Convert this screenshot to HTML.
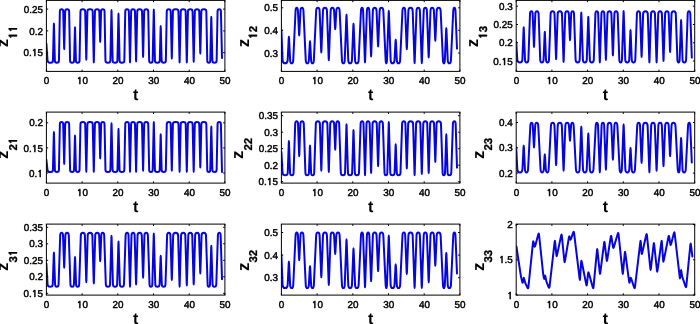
<!DOCTYPE html><html><head><meta charset="utf-8"><title>z plots</title><style>html,body{margin:0;padding:0;background:#fff;}svg{display:block;}text{font-family:"Liberation Sans", Helvetica, Arial, sans-serif;fill:#000;}.tk{font-size:9.9px;font-weight:normal;stroke:#000;stroke-width:0.45px;}.xl{font-size:16px;font-weight:bold;}.yl{font-size:16.8px;font-weight:bold;}.ys{font-size:11.4px;font-weight:bold;stroke:#000;stroke-width:0.3px;}.o{font-family:NanumGothic,"Liberation Sans",sans-serif;font-size:0.946em;}.tk .o{font-weight:bold;}.ys .o{font-weight:800;}</style></head><body>
<svg width="700" height="324" viewBox="0 0 700 324">
<rect width="700" height="324" fill="#fff"/>
<clipPath id="c11"><rect x="46.4" y="0.4" width="178.5" height="71"/></clipPath>
<path d="M46.4 43.8L47.55 60.51Q47.7 62.7 49.9 62.7L50.68 62.7Q52.88 62.7 52.94 60.5L53.84 24.5Q53.9 22.3 53.96 24.5L54.86 60.5Q54.92 62.7 56.91 62.7L56.91 62.7Q58.9 62.7 58.94 60.5L59.86 11.4Q59.9 9.2 61.53 9.2L61.53 9.2Q63.17 9.2 63.23 11.4L64.14 48.1Q64.2 50.3 64.26 48.1L65.17 11.4Q65.23 9.2 67.16 9.2L67.16 9.2Q69.1 9.2 69.14 11.4L70.06 60.5Q70.1 62.7 72.06 62.7L72.06 62.7Q74.02 62.7 74.08 60.5L74.94 28.4Q75 26.2 75.06 28.4L75.92 60.5Q75.98 62.7 77.74 62.7L77.74 62.7Q79.5 62.7 79.54 60.5L80.46 11.4Q80.5 9.2 82.7 9.2L82.94 9.2Q85.14 9.2 85.19 11.4L86.25 58.7Q86.3 60.9 86.35 58.7L87.41 11.4Q87.46 9.2 89.66 9.2L90.41 9.2Q92.61 9.2 92.66 11.4L93.75 61.5Q93.8 63.7 93.85 61.5L94.94 11.4Q94.99 9.2 97.12 9.2L97.12 9.2Q99.26 9.2 99.32 11.4L100.14 40.9Q100.2 43.1 100.26 40.9L101.08 11.4Q101.14 9.2 102.82 9.2L102.82 9.2Q104.5 9.2 104.54 11.4L105.46 60.5Q105.5 62.7 107.7 62.7L108.12 62.7Q110.32 62.7 110.37 60.5L111.45 11.2Q111.5 9 111.55 11.2L112.63 60.5Q112.68 62.7 114.88 62.7L115.16 62.7Q117.36 62.7 117.41 60.5L118.45 14.5Q118.5 12.3 118.55 14.5L119.59 60.5Q119.64 62.7 121.84 62.7L122.1 62.7Q124.3 62.7 124.34 60.5L125.26 11.4Q125.3 9.2 127.06 9.2L127.06 9.2Q128.81 9.2 128.86 11.4L129.95 61.5Q130 63.7 130.05 61.5L131.14 11.4Q131.19 9.2 133.06 9.2L133.06 9.2Q134.92 9.2 134.97 11.4L136.05 60.4Q136.1 62.6 136.15 60.4L137.23 11.4Q137.28 9.2 139.48 9.2L139.78 9.2Q141.98 9.2 142.03 11.4L143.05 55.9Q143.1 58.1 143.15 55.9L144.17 11.4Q144.22 9.2 146.21 9.2L146.21 9.2Q148.2 9.2 148.24 11.4L149.16 60.5Q149.2 62.7 150.91 62.7L150.91 62.7Q152.61 62.7 152.66 60.5L153.75 10.6Q153.8 8.4 153.85 10.6L154.94 60.5Q154.99 62.7 157.19 62.7L157.51 62.7Q159.71 62.7 159.77 60.5L160.64 27.2Q160.7 25 160.76 27.2L161.63 60.5Q161.69 62.7 163.75 62.7L163.75 62.7Q165.8 62.7 165.84 60.5L166.76 11.4Q166.8 9.2 168.73 9.2L168.73 9.2Q170.65 9.2 170.7 11.4L171.75 57.6Q171.8 59.8 171.85 57.6L172.9 11.4Q172.95 9.2 175.15 9.2L176.21 9.2Q178.41 9.2 178.46 11.4L179.55 61.5Q179.6 63.7 179.65 61.5L180.74 11.4Q180.79 9.2 182.99 9.2L183.41 9.2Q185.61 9.2 185.66 11.4L186.75 61.5Q186.8 63.7 186.85 61.5L187.94 11.4Q187.99 9.2 190.19 9.2L190.32 9.2Q192.52 9.2 192.57 11.4L193.65 60.8Q193.7 63 193.75 60.8L194.83 11.4Q194.88 9.2 197.05 9.2L197.05 9.2Q199.21 9.2 199.26 11.4L200.25 52.6Q200.3 54.8 200.35 52.6L201.34 11.4Q201.39 9.2 203.59 9.2L204.1 9.2Q206.3 9.2 206.34 11.4L207.26 60.5Q207.3 62.7 208.75 62.7L208.75 62.7Q210.2 62.7 210.25 60.5L211.25 17.9Q211.3 15.7 211.35 17.9L212.35 60.5Q212.4 62.7 214.5 62.7L214.5 62.7Q216.6 62.7 216.64 60.5L217.56 11.4Q217.6 9.2 219.24 9.2L219.24 9.2Q220.88 9.2 220.93 11.4L222 58" fill="none" stroke="#0606dc" stroke-width="2.0" stroke-linejoin="round" stroke-linecap="round" clip-path="url(#c11)"/>
<rect x="46.4" y="0.4" width="178.5" height="71" fill="none" stroke="#000" stroke-width="1"/>
<path d="M46.4 71.4V69.6M46.4 0.4V2.2" stroke="#000" stroke-width="1"/>
<text class="tk" transform="translate(46.6 84.4) skewX(0.05)" text-anchor="middle">0</text>
<path d="M82.1 71.4V69.6M82.1 0.4V2.2" stroke="#000" stroke-width="1"/>
<text class="tk" transform="translate(82.3 84.4) skewX(0.05)" text-anchor="middle"><tspan class="o">1</tspan>0</text>
<path d="M117.8 71.4V69.6M117.8 0.4V2.2" stroke="#000" stroke-width="1"/>
<text class="tk" transform="translate(118 84.4) skewX(0.05)" text-anchor="middle">20</text>
<path d="M153.5 71.4V69.6M153.5 0.4V2.2" stroke="#000" stroke-width="1"/>
<text class="tk" transform="translate(153.7 84.4) skewX(0.05)" text-anchor="middle">30</text>
<path d="M189.2 71.4V69.6M189.2 0.4V2.2" stroke="#000" stroke-width="1"/>
<text class="tk" transform="translate(189.4 84.4) skewX(0.05)" text-anchor="middle">40</text>
<path d="M224.9 71.4V69.6M224.9 0.4V2.2" stroke="#000" stroke-width="1"/>
<text class="tk" transform="translate(225.1 84.4) skewX(0.05)" text-anchor="middle">50</text>
<path d="M46.4 9.1H48.2M224.9 9.1H223.1" stroke="#000" stroke-width="1"/>
<text class="tk" transform="translate(43 12.7) skewX(0.05)" text-anchor="end">0.25</text>
<path d="M46.4 30.9H48.2M224.9 30.9H223.1" stroke="#000" stroke-width="1"/>
<text class="tk" transform="translate(43 34.5) skewX(0.05)" text-anchor="end">0.2</text>
<path d="M46.4 52.7H48.2M224.9 52.7H223.1" stroke="#000" stroke-width="1"/>
<text class="tk" transform="translate(43 56.3) skewX(0.05)" text-anchor="end">0.<tspan class="o">1</tspan>5</text>
<text class="xl" transform="translate(135.65 100.4) skewX(0.05)" text-anchor="middle">t</text>
<text transform="translate(8.4 47.3) rotate(-90) skewX(0.05)"><tspan class="yl">z</tspan><tspan class="ys" dy="8.5"><tspan class="o">1</tspan><tspan class="o">1</tspan></tspan></text>
<clipPath id="c12"><rect x="281.4" y="0.4" width="178.5" height="71"/></clipPath>
<path d="M281.4 30L282.58 60.1Q282.7 63.3 285.11 63.3L285.11 63.3Q287.51 63.3 287.67 60.1L288.74 38.2Q288.9 35 289.06 38.2L290.13 60.1Q290.29 63.3 291.7 63.3L291.7 63.3Q293.1 63.3 293.25 60.1L295.55 11Q295.7 7.8 296.75 7.8L296.75 7.8Q297.79 7.8 297.94 11L299.05 33.9Q299.2 37.1 299.35 33.9L300.46 11Q300.61 7.8 301.96 7.8L301.96 7.8Q303.3 7.8 303.45 11L305.75 60.1Q305.9 63.3 307.3 63.3L307.3 63.3Q308.71 63.3 308.88 60.1L309.83 42.7Q310 39.5 310.17 42.7L311.12 60.1Q311.29 63.3 312.5 63.3L312.5 63.3Q313.7 63.3 313.85 60.1L316.15 11Q316.3 7.8 317.9 7.8L317.9 7.8Q319.51 7.8 319.63 11L321.18 51Q321.3 54.2 321.42 51L322.97 11Q323.09 7.8 324.96 7.8L324.96 7.8Q326.84 7.8 326.96 11L328.68 58.7Q328.8 61.9 328.92 58.7L330.64 11Q330.76 7.8 332.34 7.8L332.34 7.8Q333.92 7.8 334.1 11L335.02 27.7Q335.2 30.9 335.38 27.7L336.3 11Q336.48 7.8 337.99 7.8L337.99 7.8Q339.5 7.8 339.65 11L341.95 60.1Q342.1 63.3 343.36 63.3L343.36 63.3Q344.62 63.3 344.74 60.1L346.38 16.1Q346.5 12.9 346.62 16.1L348.26 60.1Q348.38 63.3 350.1 63.3L350.1 63.3Q351.82 63.3 351.95 60.1L353.37 25Q353.5 21.8 353.63 25L355.05 60.1Q355.18 63.3 356.84 63.3L356.84 63.3Q358.5 63.3 358.65 60.1L360.95 11Q361.1 7.8 362.05 7.8L362.05 7.8Q362.99 7.8 363.1 11L364.89 61Q365 64.2 365.11 61L366.9 11Q367.01 7.8 368.12 7.8L368.12 7.8Q369.23 7.8 369.35 11L370.98 54.9Q371.1 58.1 371.22 54.9L372.85 11Q372.97 7.8 374.71 7.8L374.71 7.8Q376.45 7.8 376.58 11L377.97 44.9Q378.1 48.1 378.23 44.9L379.62 11Q379.75 7.8 381.48 7.8L381.48 7.8Q383.2 7.8 383.35 11L385.65 60.1Q385.8 63.3 386.32 63.3L386.32 63.3Q386.84 63.3 386.96 60.1L388.68 12.3Q388.8 9.1 388.92 12.3L390.64 60.1Q390.76 63.3 392.56 63.3L392.56 63.3Q394.37 63.3 394.54 60.1L395.53 41Q395.7 37.8 395.87 41L396.86 60.1Q397.03 63.3 398.51 63.3L398.51 63.3Q400 63.3 400.15 60.1L402.45 11Q402.6 7.8 403.85 7.8L403.85 7.8Q405.09 7.8 405.22 11L406.67 47.6Q406.8 50.8 406.93 47.6L408.38 11Q408.51 7.8 410.54 7.8L410.54 7.8Q412.58 7.8 412.69 11L414.49 61.6Q414.6 64.8 414.71 61.6L416.51 11Q416.62 7.8 418.2 7.8L418.2 7.8Q419.78 7.8 419.89 11L421.69 61.6Q421.8 64.8 421.91 61.6L423.71 11Q423.82 7.8 425.31 7.8L425.31 7.8Q426.8 7.8 426.92 11L428.58 56Q428.7 59.2 428.82 56L430.48 11Q430.6 7.8 432.19 7.8L432.19 7.8Q433.77 7.8 433.91 11L435.16 39.3Q435.3 42.5 435.44 39.3L436.69 11Q436.83 7.8 438.66 7.8L438.66 7.8Q440.5 7.8 440.65 11L442.95 60.1Q443.1 63.3 443.91 63.3L443.91 63.3Q444.72 63.3 444.86 60.1L446.16 29.5Q446.3 26.3 446.44 29.5L447.74 60.1Q447.88 63.3 449.34 63.3L449.34 63.3Q450.8 63.3 450.95 60.1L453.25 11Q453.4 7.8 454.37 7.8L454.37 7.8Q455.34 7.8 455.47 11L457 48.6" fill="none" stroke="#0606dc" stroke-width="2.0" stroke-linejoin="round" stroke-linecap="round" clip-path="url(#c12)"/>
<rect x="281.4" y="0.4" width="178.5" height="71" fill="none" stroke="#000" stroke-width="1"/>
<path d="M281.4 71.4V69.6M281.4 0.4V2.2" stroke="#000" stroke-width="1"/>
<text class="tk" transform="translate(281.6 84.4) skewX(0.05)" text-anchor="middle">0</text>
<path d="M317.1 71.4V69.6M317.1 0.4V2.2" stroke="#000" stroke-width="1"/>
<text class="tk" transform="translate(317.3 84.4) skewX(0.05)" text-anchor="middle"><tspan class="o">1</tspan>0</text>
<path d="M352.8 71.4V69.6M352.8 0.4V2.2" stroke="#000" stroke-width="1"/>
<text class="tk" transform="translate(353 84.4) skewX(0.05)" text-anchor="middle">20</text>
<path d="M388.5 71.4V69.6M388.5 0.4V2.2" stroke="#000" stroke-width="1"/>
<text class="tk" transform="translate(388.7 84.4) skewX(0.05)" text-anchor="middle">30</text>
<path d="M424.2 71.4V69.6M424.2 0.4V2.2" stroke="#000" stroke-width="1"/>
<text class="tk" transform="translate(424.4 84.4) skewX(0.05)" text-anchor="middle">40</text>
<path d="M459.9 71.4V69.6M459.9 0.4V2.2" stroke="#000" stroke-width="1"/>
<text class="tk" transform="translate(460.1 84.4) skewX(0.05)" text-anchor="middle">50</text>
<path d="M281.4 7.8H283.2M459.9 7.8H458.1" stroke="#000" stroke-width="1"/>
<text class="tk" transform="translate(278 11.4) skewX(0.05)" text-anchor="end">0.5</text>
<path d="M281.4 30.3H283.2M459.9 30.3H458.1" stroke="#000" stroke-width="1"/>
<text class="tk" transform="translate(278 33.9) skewX(0.05)" text-anchor="end">0.4</text>
<path d="M281.4 53H283.2M459.9 53H458.1" stroke="#000" stroke-width="1"/>
<text class="tk" transform="translate(278 56.6) skewX(0.05)" text-anchor="end">0.3</text>
<text class="xl" transform="translate(370.65 100.4) skewX(0.05)" text-anchor="middle">t</text>
<text transform="translate(248.7 47.3) rotate(-90) skewX(0.05)"><tspan class="yl">z</tspan><tspan class="ys" dy="8.5"><tspan class="o">1</tspan>2</tspan></text>
<clipPath id="c13"><rect x="516.2" y="0.4" width="178.5" height="71"/></clipPath>
<path d="M516.2 42L517.33 59.81Q517.5 62.5 519.89 62.5L519.89 62.5Q522.29 62.5 522.39 59.8L523.6 28.6Q523.7 25.9 523.8 28.6L525.01 59.8Q525.11 62.5 526.7 62.5L526.7 62.5Q528.3 62.5 528.39 59.8L530.01 13.9Q530.1 11.2 531.34 11.2L531.34 11.2Q532.58 11.2 532.68 13.9L533.9 45.7Q534 48.4 534.1 45.7L535.32 13.9Q535.42 11.2 536.96 11.2L536.96 11.2Q538.5 11.2 538.59 13.9L540.21 59.8Q540.3 62.5 541.89 62.5L541.89 62.5Q543.48 62.5 543.59 59.8L544.69 33.1Q544.8 30.4 544.91 33.1L546.01 59.8Q546.12 62.5 547.51 62.5L547.51 62.5Q548.9 62.5 548.99 59.8L550.61 13.9Q550.7 11.2 552.57 11.2L552.57 11.2Q554.44 11.2 554.53 13.9L556.01 57.9Q556.1 60.6 556.19 57.9L557.67 13.9Q557.76 11.2 559.82 11.2L559.82 11.2Q561.88 11.2 561.97 13.9L563.51 60.7Q563.6 63.4 563.69 60.7L565.23 13.9Q565.32 11.2 567.02 11.2L567.02 11.2Q568.72 11.2 568.83 13.9L569.89 39Q570 41.7 570.11 39L571.17 13.9Q571.28 11.2 572.59 11.2L572.59 11.2Q573.9 11.2 573.99 13.9L575.61 59.8Q575.7 62.5 577.65 62.5L577.65 62.5Q579.6 62.5 579.69 59.8L581.21 13.9Q581.3 11.2 581.39 13.9L582.91 59.8Q583 62.5 584.84 62.5L584.84 62.5Q586.68 62.5 586.77 59.8L588.21 18.1Q588.3 15.4 588.39 18.1L589.83 59.8Q589.92 62.5 591.81 62.5L591.81 62.5Q593.7 62.5 593.79 59.8L595.41 13.9Q595.5 11.2 596.79 11.2L596.79 11.2Q598.07 11.2 598.16 13.9L599.71 61.1Q599.8 63.8 599.89 61.1L601.44 13.9Q601.53 11.2 602.88 11.2L602.88 11.2Q604.22 11.2 604.31 13.9L605.81 58.6Q605.9 61.3 605.99 58.6L607.49 13.9Q607.58 11.2 609.44 11.2L609.44 11.2Q611.31 11.2 611.4 13.9L612.81 54.2Q612.9 56.9 612.99 54.2L614.4 13.9Q614.49 11.2 616.05 11.2L616.05 11.2Q617.6 11.2 617.69 13.9L619.31 59.8Q619.4 62.5 620.63 62.5L620.63 62.5Q621.87 62.5 621.96 59.8L623.51 12.4Q623.6 9.7 623.69 12.4L625.24 59.8Q625.33 62.5 627.24 62.5L627.24 62.5Q629.15 62.5 629.26 59.8L630.39 31.4Q630.5 28.7 630.61 31.4L631.74 59.8Q631.85 62.5 633.53 62.5L633.53 62.5Q635.2 62.5 635.29 59.8L636.91 13.9Q637 11.2 638.49 11.2L638.49 11.2Q639.98 11.2 640.07 13.9L641.51 55.6Q641.6 58.3 641.69 55.6L643.13 13.9Q643.22 11.2 645.44 11.2L645.44 11.2Q647.67 11.2 647.76 13.9L649.31 61.1Q649.4 63.8 649.49 61.1L651.04 13.9Q651.13 11.2 653 11.2L653 11.2Q654.87 11.2 654.96 13.9L656.51 61.1Q656.6 63.8 656.69 61.1L658.24 13.9Q658.33 11.2 660.07 11.2L660.07 11.2Q661.8 11.2 661.89 13.9L663.41 59.6Q663.5 62.3 663.59 59.6L665.11 13.9Q665.2 11.2 666.89 11.2L666.89 11.2Q668.58 11.2 668.68 13.9L670 50.8Q670.1 53.5 670.2 50.8L671.52 13.9Q671.62 11.2 673.66 11.2L673.66 11.2Q675.7 11.2 675.79 13.9L677.41 59.8Q677.5 62.5 678.52 62.5L678.52 62.5Q679.55 62.5 679.65 59.8L681 21.4Q681.1 18.7 681.2 21.4L682.55 59.8Q682.65 62.5 684.33 62.5L684.33 62.5Q686 62.5 686.09 59.8L687.71 13.9Q687.8 11.2 689 11.2L689 11.2Q690.2 11.2 690.29 13.9L691.8 57.6" fill="none" stroke="#0606dc" stroke-width="2.0" stroke-linejoin="round" stroke-linecap="round" clip-path="url(#c13)"/>
<rect x="516.2" y="0.4" width="178.5" height="71" fill="none" stroke="#000" stroke-width="1"/>
<path d="M516.2 71.4V69.6M516.2 0.4V2.2" stroke="#000" stroke-width="1"/>
<text class="tk" transform="translate(516.4 84.4) skewX(0.05)" text-anchor="middle">0</text>
<path d="M551.9 71.4V69.6M551.9 0.4V2.2" stroke="#000" stroke-width="1"/>
<text class="tk" transform="translate(552.1 84.4) skewX(0.05)" text-anchor="middle"><tspan class="o">1</tspan>0</text>
<path d="M587.6 71.4V69.6M587.6 0.4V2.2" stroke="#000" stroke-width="1"/>
<text class="tk" transform="translate(587.8 84.4) skewX(0.05)" text-anchor="middle">20</text>
<path d="M623.3 71.4V69.6M623.3 0.4V2.2" stroke="#000" stroke-width="1"/>
<text class="tk" transform="translate(623.5 84.4) skewX(0.05)" text-anchor="middle">30</text>
<path d="M659 71.4V69.6M659 0.4V2.2" stroke="#000" stroke-width="1"/>
<text class="tk" transform="translate(659.2 84.4) skewX(0.05)" text-anchor="middle">40</text>
<path d="M694.7 71.4V69.6M694.7 0.4V2.2" stroke="#000" stroke-width="1"/>
<text class="tk" transform="translate(694.9 84.4) skewX(0.05)" text-anchor="middle">50</text>
<path d="M516.2 6.2H518M694.7 6.2H692.9" stroke="#000" stroke-width="1"/>
<text class="tk" transform="translate(512.8 9.8) skewX(0.05)" text-anchor="end">0.3</text>
<path d="M516.2 24.5H518M694.7 24.5H692.9" stroke="#000" stroke-width="1"/>
<text class="tk" transform="translate(512.8 28.1) skewX(0.05)" text-anchor="end">0.25</text>
<path d="M516.2 42.8H518M694.7 42.8H692.9" stroke="#000" stroke-width="1"/>
<text class="tk" transform="translate(512.8 46.4) skewX(0.05)" text-anchor="end">0.2</text>
<path d="M516.2 61H518M694.7 61H692.9" stroke="#000" stroke-width="1"/>
<text class="tk" transform="translate(512.8 64.6) skewX(0.05)" text-anchor="end">0.<tspan class="o">1</tspan>5</text>
<text class="xl" transform="translate(605.45 100.4) skewX(0.05)" text-anchor="middle">t</text>
<text transform="translate(478.2 47.3) rotate(-90) skewX(0.05)"><tspan class="yl">z</tspan><tspan class="ys" dy="8.5"><tspan class="o">1</tspan>3</tspan></text>
<clipPath id="c21"><rect x="46.4" y="112.1" width="178.5" height="71"/></clipPath>
<path d="M46.4 159.8L47.47 169.81Q47.7 172 49.9 172L50.67 172Q52.87 172 52.93 169.8L53.84 133.2Q53.9 131 53.96 133.2L54.87 169.8Q54.93 172 56.91 172L56.91 172Q58.9 172 58.94 169.8L59.86 124.2Q59.9 122 61.52 122L61.52 122Q63.14 122 63.19 124.2L64.15 163Q64.2 165.2 64.25 163L65.21 124.2Q65.26 122 67.18 122L67.18 122Q69.1 122 69.14 124.2L70.06 169.8Q70.1 172 72.06 172L72.06 172Q74.01 172 74.07 169.8L74.94 136.5Q75 134.3 75.06 136.5L75.93 169.8Q75.99 172 77.75 172L77.75 172Q79.5 172 79.54 169.8L80.46 124.2Q80.5 122 82.7 122L82.95 122Q85.15 122 85.2 124.2L86.25 170.8Q86.3 173 86.35 170.8L87.4 124.2Q87.45 122 89.65 122L90.45 122Q92.65 122 92.7 124.2L93.75 170.8Q93.8 173 93.85 170.8L94.9 124.2Q94.95 122 97.08 122L97.08 122Q99.21 122 99.27 124.2L100.14 157.5Q100.2 159.7 100.26 157.5L101.13 124.2Q101.19 122 102.84 122L102.84 122Q104.5 122 104.54 124.2L105.46 169.8Q105.5 172 107.7 172L108.16 172Q110.36 172 110.41 169.8L111.45 124.3Q111.5 122.1 111.55 124.3L112.59 169.8Q112.64 172 114.84 172L115.23 172Q117.43 172 117.48 169.8L118.45 129.9Q118.5 127.7 118.55 129.9L119.52 169.8Q119.57 172 121.77 172L122.1 172Q124.3 172 124.34 169.8L125.26 124.2Q125.3 122 127.07 122L127.07 122Q128.85 122 128.9 124.2L129.95 170.8Q130 173 130.05 170.8L131.1 124.2Q131.15 122 133.05 122L133.05 122Q134.95 122 135 124.2L136.05 170.8Q136.1 173 136.15 170.8L137.2 124.2Q137.25 122 139.45 122L139.76 122Q141.96 122 142.01 124.2L143.05 169.7Q143.1 171.9 143.15 169.7L144.19 124.2Q144.24 122 146.22 122L146.22 122Q148.2 122 148.24 124.2L149.16 169.8Q149.2 172 150.93 172L150.93 172Q152.65 172 152.7 169.8L153.75 123.2Q153.8 121 153.85 123.2L154.9 169.8Q154.95 172 157.15 172L157.5 172Q159.7 172 159.76 169.8L160.64 135.4Q160.7 133.2 160.76 135.4L161.64 169.8Q161.7 172 163.75 172L163.75 172Q165.8 172 165.84 169.8L166.76 124.2Q166.8 122 168.73 122L168.73 122Q170.66 122 170.71 124.2L171.75 169.7Q171.8 171.9 171.85 169.7L172.89 124.2Q172.94 122 175.14 122L176.25 122Q178.45 122 178.5 124.2L179.55 170.8Q179.6 173 179.65 170.8L180.7 124.2Q180.75 122 182.95 122L183.45 122Q185.65 122 185.7 124.2L186.75 170.8Q186.8 173 186.85 170.8L187.9 124.2Q187.95 122 190.15 122L190.35 122Q192.55 122 192.6 124.2L193.65 170.8Q193.7 173 193.75 170.8L194.8 124.2Q194.85 122 197.02 122L197.02 122Q199.2 122 199.25 124.2L200.25 166.4Q200.3 168.6 200.35 166.4L201.35 124.2Q201.4 122 203.6 122L204.1 122Q206.3 122 206.34 124.2L207.26 169.8Q207.3 172 208.75 172L208.75 172Q210.2 172 210.25 169.8L211.25 127.6Q211.3 125.4 211.35 127.6L212.35 169.8Q212.4 172 214.5 172L214.5 172Q216.6 172 216.64 169.8L217.56 124.2Q217.6 122 219.23 122L219.23 122Q220.86 122 220.91 124.2L222 171.9" fill="none" stroke="#0606dc" stroke-width="2.0" stroke-linejoin="round" stroke-linecap="round" clip-path="url(#c21)"/>
<rect x="46.4" y="112.1" width="178.5" height="71" fill="none" stroke="#000" stroke-width="1"/>
<path d="M46.4 183.1V181.3M46.4 112.1V113.9" stroke="#000" stroke-width="1"/>
<text class="tk" transform="translate(46.6 196.1) skewX(0.05)" text-anchor="middle">0</text>
<path d="M82.1 183.1V181.3M82.1 112.1V113.9" stroke="#000" stroke-width="1"/>
<text class="tk" transform="translate(82.3 196.1) skewX(0.05)" text-anchor="middle"><tspan class="o">1</tspan>0</text>
<path d="M117.8 183.1V181.3M117.8 112.1V113.9" stroke="#000" stroke-width="1"/>
<text class="tk" transform="translate(118 196.1) skewX(0.05)" text-anchor="middle">20</text>
<path d="M153.5 183.1V181.3M153.5 112.1V113.9" stroke="#000" stroke-width="1"/>
<text class="tk" transform="translate(153.7 196.1) skewX(0.05)" text-anchor="middle">30</text>
<path d="M189.2 183.1V181.3M189.2 112.1V113.9" stroke="#000" stroke-width="1"/>
<text class="tk" transform="translate(189.4 196.1) skewX(0.05)" text-anchor="middle">40</text>
<path d="M224.9 183.1V181.3M224.9 112.1V113.9" stroke="#000" stroke-width="1"/>
<text class="tk" transform="translate(225.1 196.1) skewX(0.05)" text-anchor="middle">50</text>
<path d="M46.4 122.8H48.2M224.9 122.8H223.1" stroke="#000" stroke-width="1"/>
<text class="tk" transform="translate(43 126.4) skewX(0.05)" text-anchor="end">0.2</text>
<path d="M46.4 147.9H48.2M224.9 147.9H223.1" stroke="#000" stroke-width="1"/>
<text class="tk" transform="translate(43 151.5) skewX(0.05)" text-anchor="end">0.<tspan class="o">1</tspan>5</text>
<path d="M46.4 173H48.2M224.9 173H223.1" stroke="#000" stroke-width="1"/>
<text class="tk" transform="translate(43 176.6) skewX(0.05)" text-anchor="end">0.<tspan class="o">1</tspan></text>
<text class="xl" transform="translate(135.65 212.1) skewX(0.05)" text-anchor="middle">t</text>
<text transform="translate(8.4 159) rotate(-90) skewX(0.05)"><tspan class="yl">z</tspan><tspan class="ys" dy="8.5">2<tspan class="o">1</tspan></tspan></text>
<clipPath id="c22"><rect x="281.4" y="112.1" width="178.5" height="71"/></clipPath>
<path d="M281.4 152L282.56 172.7Q282.7 175.3 285.17 175.3L285.17 175.3Q287.65 175.3 287.74 172.7L288.81 142.3Q288.9 139.7 288.99 142.3L290.06 172.7Q290.15 175.3 291.82 175.3L291.82 175.3Q293.5 175.3 293.59 172.7L295.21 123.9Q295.3 121.3 296.62 121.3L296.62 121.3Q297.94 121.3 298.03 123.9L299.11 155Q299.2 157.6 299.29 155L300.37 123.9Q300.46 121.3 302.08 121.3L302.08 121.3Q303.7 121.3 303.79 123.9L305.41 172.7Q305.5 175.3 307.16 175.3L307.16 175.3Q308.82 175.3 308.92 172.7L309.9 146.7Q310 144.1 310.1 146.7L311.08 172.7Q311.18 175.3 312.64 175.3L312.64 175.3Q314.1 175.3 314.19 172.7L315.81 123.9Q315.9 121.3 317.86 121.3L317.86 121.3Q319.81 121.3 319.89 123.9L321.22 169.5Q321.3 172.1 321.38 169.5L322.71 123.9Q322.79 121.3 325.04 121.3L325.04 121.3Q327.29 121.3 327.37 123.9L328.72 170.6Q328.8 173.2 328.88 170.6L330.23 123.9Q330.31 121.3 332.18 121.3L332.18 121.3Q334.04 121.3 334.14 123.9L335.1 148.4Q335.2 151 335.3 148.4L336.26 123.9Q336.36 121.3 337.73 121.3L337.73 121.3Q339.1 121.3 339.19 123.9L340.81 172.7Q340.9 175.3 342.94 175.3L342.94 175.3Q344.98 175.3 345.06 172.7L346.42 125.6Q346.5 123 346.58 125.6L347.94 172.7Q348.02 175.3 350.04 175.3L350.04 175.3Q352.07 175.3 352.15 172.7L353.42 131.2Q353.5 128.6 353.58 131.2L354.85 172.7Q354.93 175.3 356.91 175.3L356.91 175.3Q358.9 175.3 358.99 172.7L360.61 123.9Q360.7 121.3 362.07 121.3L362.07 121.3Q363.44 121.3 363.51 123.9L364.93 173.9Q365 176.5 365.07 173.9L366.49 123.9Q366.56 121.3 368.06 121.3L368.06 121.3Q369.57 121.3 369.65 123.9L371.02 171.7Q371.1 174.3 371.18 171.7L372.55 123.9Q372.63 121.3 374.65 121.3L374.65 121.3Q376.68 121.3 376.76 123.9L378.02 165Q378.1 167.6 378.18 165L379.44 123.9Q379.52 121.3 381.16 121.3L381.16 121.3Q382.8 121.3 382.89 123.9L384.51 172.7Q384.6 175.3 385.93 175.3L385.93 175.3Q387.25 175.3 387.32 172.7L388.73 123.4Q388.8 120.8 388.87 123.4L390.28 172.7Q390.35 175.3 392.43 175.3L392.43 175.3Q394.5 175.3 394.6 172.7L395.6 145.6Q395.7 143 395.8 145.6L396.8 172.7Q396.9 175.3 398.65 175.3L398.65 175.3Q400.4 175.3 400.49 172.7L402.11 123.9Q402.2 121.3 403.77 121.3L403.77 121.3Q405.34 121.3 405.42 123.9L406.72 167.3Q406.8 169.9 406.88 167.3L408.18 123.9Q408.26 121.3 410.65 121.3L410.65 121.3Q413.04 121.3 413.11 123.9L414.53 173.9Q414.6 176.5 414.67 173.9L416.09 123.9Q416.16 121.3 418.21 121.3L418.21 121.3Q420.25 121.3 420.32 123.9L421.73 172.8Q421.8 175.4 421.87 172.8L423.28 123.9Q423.35 121.3 425.26 121.3L425.26 121.3Q427.17 121.3 427.25 123.9L428.62 171.7Q428.7 174.3 428.78 171.7L430.15 123.9Q430.23 121.3 432.09 121.3L432.09 121.3Q433.95 121.3 434.03 123.9L435.22 160.6Q435.3 163.2 435.38 160.6L436.57 123.9Q436.65 121.3 438.77 121.3L438.77 121.3Q440.9 121.3 440.99 123.9L442.61 172.7Q442.7 175.3 443.82 175.3L443.82 175.3Q444.94 175.3 445.02 172.7L446.22 135.6Q446.3 133 446.38 135.6L447.58 172.7Q447.66 175.3 449.43 175.3L449.43 175.3Q451.2 175.3 451.29 172.7L452.91 123.9Q453 121.3 454.29 121.3L454.29 121.3Q455.58 121.3 455.66 123.9L457 167.6" fill="none" stroke="#0606dc" stroke-width="2.0" stroke-linejoin="round" stroke-linecap="round" clip-path="url(#c22)"/>
<rect x="281.4" y="112.1" width="178.5" height="71" fill="none" stroke="#000" stroke-width="1"/>
<path d="M281.4 183.1V181.3M281.4 112.1V113.9" stroke="#000" stroke-width="1"/>
<text class="tk" transform="translate(281.6 196.1) skewX(0.05)" text-anchor="middle">0</text>
<path d="M317.1 183.1V181.3M317.1 112.1V113.9" stroke="#000" stroke-width="1"/>
<text class="tk" transform="translate(317.3 196.1) skewX(0.05)" text-anchor="middle"><tspan class="o">1</tspan>0</text>
<path d="M352.8 183.1V181.3M352.8 112.1V113.9" stroke="#000" stroke-width="1"/>
<text class="tk" transform="translate(353 196.1) skewX(0.05)" text-anchor="middle">20</text>
<path d="M388.5 183.1V181.3M388.5 112.1V113.9" stroke="#000" stroke-width="1"/>
<text class="tk" transform="translate(388.7 196.1) skewX(0.05)" text-anchor="middle">30</text>
<path d="M424.2 183.1V181.3M424.2 112.1V113.9" stroke="#000" stroke-width="1"/>
<text class="tk" transform="translate(424.4 196.1) skewX(0.05)" text-anchor="middle">40</text>
<path d="M459.9 183.1V181.3M459.9 112.1V113.9" stroke="#000" stroke-width="1"/>
<text class="tk" transform="translate(460.1 196.1) skewX(0.05)" text-anchor="middle">50</text>
<path d="M281.4 115.7H283.2M459.9 115.7H458.1" stroke="#000" stroke-width="1"/>
<text class="tk" transform="translate(278 119.3) skewX(0.05)" text-anchor="end">0.35</text>
<path d="M281.4 132.2H283.2M459.9 132.2H458.1" stroke="#000" stroke-width="1"/>
<text class="tk" transform="translate(278 135.8) skewX(0.05)" text-anchor="end">0.3</text>
<path d="M281.4 148.7H283.2M459.9 148.7H458.1" stroke="#000" stroke-width="1"/>
<text class="tk" transform="translate(278 152.3) skewX(0.05)" text-anchor="end">0.25</text>
<path d="M281.4 165.2H283.2M459.9 165.2H458.1" stroke="#000" stroke-width="1"/>
<text class="tk" transform="translate(278 168.8) skewX(0.05)" text-anchor="end">0.2</text>
<path d="M281.4 181.7H283.2M459.9 181.7H458.1" stroke="#000" stroke-width="1"/>
<text class="tk" transform="translate(278 185.3) skewX(0.05)" text-anchor="end">0.<tspan class="o">1</tspan>5</text>
<text class="xl" transform="translate(370.65 212.1) skewX(0.05)" text-anchor="middle">t</text>
<text transform="translate(243.4 159) rotate(-90) skewX(0.05)"><tspan class="yl">z</tspan><tspan class="ys" dy="8.5">22</tspan></text>
<clipPath id="c23"><rect x="516.2" y="112.1" width="178.5" height="71"/></clipPath>
<path d="M516.2 147.6L517.33 169.3Q517.5 172.5 519.9 172.5L519.9 172.5Q522.3 172.5 522.46 169.3L523.54 147Q523.7 143.8 523.86 147L524.94 169.3Q525.1 172.5 526.5 172.5L526.5 172.5Q527.9 172.5 528.07 169.3L530.33 125.9Q530.5 122.7 531.58 122.7L531.58 122.7Q532.65 122.7 532.81 125.9L533.84 145.9Q534 149.1 534.16 145.9L535.19 125.9Q535.35 122.7 536.73 122.7L536.73 122.7Q538.1 122.7 538.27 125.9L540.53 169.3Q540.7 172.5 542.15 172.5L542.15 172.5Q543.6 172.5 543.79 169.31L544.61 155.89Q544.8 152.7 544.99 155.89L545.81 169.31Q546 172.5 547.25 172.5L547.25 172.5Q548.5 172.5 548.67 169.3L550.93 125.9Q551.1 122.7 552.73 122.7L552.73 122.7Q554.36 122.7 554.49 125.9L555.97 163.6Q556.1 166.8 556.23 163.6L557.71 125.9Q557.84 122.7 559.79 122.7L559.79 122.7Q561.74 122.7 561.86 125.9L563.48 169.2Q563.6 172.4 563.72 169.2L565.34 125.9Q565.46 122.7 567.13 122.7L567.13 122.7Q568.8 122.7 568.99 125.89L569.81 139.21Q570 142.4 570.19 139.21L571.01 125.89Q571.2 122.7 572.35 122.7L572.35 122.7Q573.5 122.7 573.67 125.9L575.93 169.3Q576.1 172.5 577.8 172.5L577.8 172.5Q579.49 172.5 579.61 169.3L581.18 128.1Q581.3 124.9 581.42 128.1L582.99 169.3Q583.11 172.5 584.87 172.5L584.87 172.5Q586.63 172.5 586.76 169.3L588.17 134.8Q588.3 131.6 588.43 134.8L589.84 169.3Q589.97 172.5 591.63 172.5L591.63 172.5Q593.3 172.5 593.47 169.3L595.73 125.9Q595.9 122.7 596.9 122.7L596.9 122.7Q597.9 122.7 598.02 125.9L599.68 170.8Q599.8 174 599.92 170.8L601.58 125.9Q601.7 122.7 602.88 122.7L602.88 122.7Q604.06 122.7 604.18 125.9L605.78 168.1Q605.9 171.3 606.02 168.1L607.62 125.9Q607.74 122.7 609.51 122.7L609.51 122.7Q611.28 122.7 611.41 125.9L612.77 158.1Q612.9 161.3 613.03 158.1L614.39 125.9Q614.52 122.7 615.86 122.7L615.86 122.7Q617.2 122.7 617.37 125.9L619.63 169.3Q619.8 172.5 620.77 172.5L620.77 172.5Q621.74 172.5 621.86 169.3L623.48 125.9Q623.6 122.7 623.72 125.9L625.34 169.3Q625.46 172.5 627.31 172.5L627.31 172.5Q629.15 172.5 629.31 169.3L630.34 149.3Q630.5 146.1 630.66 149.3L631.69 169.3Q631.85 172.5 633.33 172.5L633.33 172.5Q634.8 172.5 634.97 169.3L637.23 125.9Q637.4 122.7 638.65 122.7L638.65 122.7Q639.91 122.7 640.04 125.9L641.47 161.4Q641.6 164.6 641.73 161.4L643.16 125.9Q643.29 122.7 645.39 122.7L645.39 122.7Q647.5 122.7 647.62 125.9L649.28 170.8Q649.4 174 649.52 170.8L651.18 125.9Q651.3 122.7 653.02 122.7L653.02 122.7Q654.74 122.7 654.86 125.9L656.48 169.2Q656.6 172.4 656.72 169.2L658.34 125.9Q658.46 122.7 660.1 122.7L660.1 122.7Q661.74 122.7 661.86 125.9L663.38 164.7Q663.5 167.9 663.62 164.7L665.14 125.9Q665.26 122.7 666.91 122.7L666.91 122.7Q668.56 122.7 668.7 125.9L669.96 154.7Q670.1 157.9 670.24 154.7L671.5 125.9Q671.64 122.7 673.47 122.7L673.47 122.7Q675.3 122.7 675.47 125.9L677.73 169.3Q677.9 172.5 678.71 172.5L678.71 172.5Q679.53 172.5 679.67 169.3L680.96 139.3Q681.1 136.1 681.24 139.3L682.53 169.3Q682.67 172.5 684.13 172.5L684.13 172.5Q685.6 172.5 685.77 169.3L688.03 125.9Q688.2 122.7 689.18 122.7L689.18 122.7Q690.16 122.7 690.29 125.9L691.8 162.4" fill="none" stroke="#0606dc" stroke-width="2.0" stroke-linejoin="round" stroke-linecap="round" clip-path="url(#c23)"/>
<rect x="516.2" y="112.1" width="178.5" height="71" fill="none" stroke="#000" stroke-width="1"/>
<path d="M516.2 183.1V181.3M516.2 112.1V113.9" stroke="#000" stroke-width="1"/>
<text class="tk" transform="translate(516.4 196.1) skewX(0.05)" text-anchor="middle">0</text>
<path d="M551.9 183.1V181.3M551.9 112.1V113.9" stroke="#000" stroke-width="1"/>
<text class="tk" transform="translate(552.1 196.1) skewX(0.05)" text-anchor="middle"><tspan class="o">1</tspan>0</text>
<path d="M587.6 183.1V181.3M587.6 112.1V113.9" stroke="#000" stroke-width="1"/>
<text class="tk" transform="translate(587.8 196.1) skewX(0.05)" text-anchor="middle">20</text>
<path d="M623.3 183.1V181.3M623.3 112.1V113.9" stroke="#000" stroke-width="1"/>
<text class="tk" transform="translate(623.5 196.1) skewX(0.05)" text-anchor="middle">30</text>
<path d="M659 183.1V181.3M659 112.1V113.9" stroke="#000" stroke-width="1"/>
<text class="tk" transform="translate(659.2 196.1) skewX(0.05)" text-anchor="middle">40</text>
<path d="M694.7 183.1V181.3M694.7 112.1V113.9" stroke="#000" stroke-width="1"/>
<text class="tk" transform="translate(694.9 196.1) skewX(0.05)" text-anchor="middle">50</text>
<path d="M516.2 122.5H518M694.7 122.5H692.9" stroke="#000" stroke-width="1"/>
<text class="tk" transform="translate(512.8 126.1) skewX(0.05)" text-anchor="end">0.4</text>
<path d="M516.2 147.8H518M694.7 147.8H692.9" stroke="#000" stroke-width="1"/>
<text class="tk" transform="translate(512.8 151.4) skewX(0.05)" text-anchor="end">0.3</text>
<path d="M516.2 173.1H518M694.7 173.1H692.9" stroke="#000" stroke-width="1"/>
<text class="tk" transform="translate(512.8 176.7) skewX(0.05)" text-anchor="end">0.2</text>
<text class="xl" transform="translate(605.45 212.1) skewX(0.05)" text-anchor="middle">t</text>
<text transform="translate(483.5 159) rotate(-90) skewX(0.05)"><tspan class="yl">z</tspan><tspan class="ys" dy="8.5">23</tspan></text>
<clipPath id="c31"><rect x="46.4" y="224.1" width="178.5" height="71"/></clipPath>
<path d="M46.4 263.5L47.56 284.2Q47.7 286.8 50.18 286.8L50.18 286.8Q52.65 286.8 52.74 284.2L53.81 253.8Q53.9 251.2 53.99 253.8L55.06 284.2Q55.15 286.8 56.83 286.8L56.83 286.8Q58.5 286.8 58.59 284.2L60.21 235.4Q60.3 232.8 61.62 232.8L61.62 232.8Q62.94 232.8 63.03 235.4L64.11 266.5Q64.2 269.1 64.29 266.5L65.37 235.4Q65.46 232.8 67.08 232.8L67.08 232.8Q68.7 232.8 68.79 235.4L70.41 284.2Q70.5 286.8 72.16 286.8L72.16 286.8Q73.82 286.8 73.92 284.2L74.9 258.2Q75 255.6 75.1 258.2L76.08 284.2Q76.18 286.8 77.64 286.8L77.64 286.8Q79.1 286.8 79.19 284.2L80.81 235.4Q80.9 232.8 82.86 232.8L82.86 232.8Q84.81 232.8 84.89 235.4L86.22 281Q86.3 283.6 86.38 281L87.71 235.4Q87.79 232.8 90.04 232.8L90.04 232.8Q92.29 232.8 92.37 235.4L93.72 282.1Q93.8 284.7 93.88 282.1L95.23 235.4Q95.31 232.8 97.18 232.8L97.18 232.8Q99.04 232.8 99.14 235.4L100.1 259.9Q100.2 262.5 100.3 259.9L101.26 235.4Q101.36 232.8 102.73 232.8L102.73 232.8Q104.1 232.8 104.19 235.4L105.81 284.2Q105.9 286.8 107.94 286.8L107.94 286.8Q109.98 286.8 110.06 284.2L111.42 237.1Q111.5 234.5 111.58 237.1L112.94 284.2Q113.02 286.8 115.05 286.8L115.05 286.8Q117.07 286.8 117.15 284.2L118.42 242.7Q118.5 240.1 118.58 242.7L119.85 284.2Q119.93 286.8 121.92 286.8L121.92 286.8Q123.9 286.8 123.99 284.2L125.61 235.4Q125.7 232.8 127.07 232.8L127.07 232.8Q128.44 232.8 128.51 235.4L129.93 285.4Q130 288 130.07 285.4L131.49 235.4Q131.56 232.8 133.07 232.8L133.07 232.8Q134.57 232.8 134.65 235.4L136.02 283.2Q136.1 285.8 136.18 283.2L137.55 235.4Q137.63 232.8 139.66 232.8L139.66 232.8Q141.68 232.8 141.76 235.4L143.02 276.5Q143.1 279.1 143.18 276.5L144.44 235.4Q144.52 232.8 146.16 232.8L146.16 232.8Q147.8 232.8 147.89 235.4L149.51 284.2Q149.6 286.8 150.93 286.8L150.93 286.8Q152.25 286.8 152.32 284.2L153.73 234.9Q153.8 232.3 153.87 234.9L155.28 284.2Q155.35 286.8 157.43 286.8L157.43 286.8Q159.5 286.8 159.6 284.2L160.6 257.1Q160.7 254.5 160.8 257.1L161.8 284.2Q161.9 286.8 163.65 286.8L163.65 286.8Q165.4 286.8 165.49 284.2L167.11 235.4Q167.2 232.8 168.77 232.8L168.77 232.8Q170.34 232.8 170.42 235.4L171.72 278.8Q171.8 281.4 171.88 278.8L173.18 235.4Q173.26 232.8 175.65 232.8L175.65 232.8Q178.04 232.8 178.11 235.4L179.53 285.4Q179.6 288 179.67 285.4L181.09 235.4Q181.16 232.8 183.21 232.8L183.21 232.8Q185.25 232.8 185.32 235.4L186.73 284.3Q186.8 286.9 186.87 284.3L188.28 235.4Q188.35 232.8 190.26 232.8L190.26 232.8Q192.17 232.8 192.25 235.4L193.62 283.2Q193.7 285.8 193.78 283.2L195.15 235.4Q195.23 232.8 197.09 232.8L197.09 232.8Q198.95 232.8 199.03 235.4L200.22 272.1Q200.3 274.7 200.38 272.1L201.57 235.4Q201.65 232.8 203.78 232.8L203.78 232.8Q205.9 232.8 205.99 235.4L207.61 284.2Q207.7 286.8 208.82 286.8L208.82 286.8Q209.94 286.8 210.02 284.2L211.22 247.1Q211.3 244.5 211.38 247.1L212.58 284.2Q212.66 286.8 214.43 286.8L214.43 286.8Q216.2 286.8 216.29 284.2L217.91 235.4Q218 232.8 219.29 232.8L219.29 232.8Q220.58 232.8 220.66 235.4L222 279.1" fill="none" stroke="#0606dc" stroke-width="2.0" stroke-linejoin="round" stroke-linecap="round" clip-path="url(#c31)"/>
<rect x="46.4" y="224.1" width="178.5" height="71" fill="none" stroke="#000" stroke-width="1"/>
<path d="M46.4 295.1V293.3M46.4 224.1V225.9" stroke="#000" stroke-width="1"/>
<text class="tk" transform="translate(46.6 308.1) skewX(0.05)" text-anchor="middle">0</text>
<path d="M82.1 295.1V293.3M82.1 224.1V225.9" stroke="#000" stroke-width="1"/>
<text class="tk" transform="translate(82.3 308.1) skewX(0.05)" text-anchor="middle"><tspan class="o">1</tspan>0</text>
<path d="M117.8 295.1V293.3M117.8 224.1V225.9" stroke="#000" stroke-width="1"/>
<text class="tk" transform="translate(118 308.1) skewX(0.05)" text-anchor="middle">20</text>
<path d="M153.5 295.1V293.3M153.5 224.1V225.9" stroke="#000" stroke-width="1"/>
<text class="tk" transform="translate(153.7 308.1) skewX(0.05)" text-anchor="middle">30</text>
<path d="M189.2 295.1V293.3M189.2 224.1V225.9" stroke="#000" stroke-width="1"/>
<text class="tk" transform="translate(189.4 308.1) skewX(0.05)" text-anchor="middle">40</text>
<path d="M224.9 295.1V293.3M224.9 224.1V225.9" stroke="#000" stroke-width="1"/>
<text class="tk" transform="translate(225.1 308.1) skewX(0.05)" text-anchor="middle">50</text>
<path d="M46.4 227.3H48.2M224.9 227.3H223.1" stroke="#000" stroke-width="1"/>
<text class="tk" transform="translate(43 230.9) skewX(0.05)" text-anchor="end">0.35</text>
<path d="M46.4 243.8H48.2M224.9 243.8H223.1" stroke="#000" stroke-width="1"/>
<text class="tk" transform="translate(43 247.4) skewX(0.05)" text-anchor="end">0.3</text>
<path d="M46.4 260.3H48.2M224.9 260.3H223.1" stroke="#000" stroke-width="1"/>
<text class="tk" transform="translate(43 263.9) skewX(0.05)" text-anchor="end">0.25</text>
<path d="M46.4 276.8H48.2M224.9 276.8H223.1" stroke="#000" stroke-width="1"/>
<text class="tk" transform="translate(43 280.4) skewX(0.05)" text-anchor="end">0.2</text>
<path d="M46.4 293.3H48.2M224.9 293.3H223.1" stroke="#000" stroke-width="1"/>
<text class="tk" transform="translate(43 296.9) skewX(0.05)" text-anchor="end">0.<tspan class="o">1</tspan>5</text>
<text class="xl" transform="translate(135.65 324.1) skewX(0.05)" text-anchor="middle">t</text>
<text transform="translate(8.4 271) rotate(-90) skewX(0.05)"><tspan class="yl">z</tspan><tspan class="ys" dy="8.5">3<tspan class="o">1</tspan></tspan></text>
<clipPath id="c32"><rect x="281.4" y="224.1" width="178.5" height="71"/></clipPath>
<path d="M281.4 254.8L282.58 284.9Q282.7 288.1 285.11 288.1L285.11 288.1Q287.51 288.1 287.67 284.9L288.74 263Q288.9 259.8 289.06 263L290.13 284.9Q290.29 288.1 291.7 288.1L291.7 288.1Q293.1 288.1 293.25 284.9L295.55 235.8Q295.7 232.6 296.75 232.6L296.75 232.6Q297.79 232.6 297.94 235.8L299.05 258.7Q299.2 261.9 299.35 258.7L300.46 235.8Q300.61 232.6 301.96 232.6L301.96 232.6Q303.3 232.6 303.45 235.8L305.75 284.9Q305.9 288.1 307.3 288.1L307.3 288.1Q308.71 288.1 308.88 284.9L309.83 267.5Q310 264.3 310.17 267.5L311.12 284.9Q311.29 288.1 312.5 288.1L312.5 288.1Q313.7 288.1 313.85 284.9L316.15 235.8Q316.3 232.6 317.9 232.6L317.9 232.6Q319.51 232.6 319.63 235.8L321.18 275.8Q321.3 279 321.42 275.8L322.97 235.8Q323.09 232.6 324.96 232.6L324.96 232.6Q326.84 232.6 326.96 235.8L328.68 283.5Q328.8 286.7 328.92 283.5L330.64 235.8Q330.76 232.6 332.34 232.6L332.34 232.6Q333.92 232.6 334.1 235.8L335.02 252.5Q335.2 255.7 335.38 252.5L336.3 235.8Q336.48 232.6 337.99 232.6L337.99 232.6Q339.5 232.6 339.65 235.8L341.95 284.9Q342.1 288.1 343.36 288.1L343.36 288.1Q344.62 288.1 344.74 284.9L346.38 240.9Q346.5 237.7 346.62 240.9L348.26 284.9Q348.38 288.1 350.1 288.1L350.1 288.1Q351.82 288.1 351.95 284.9L353.37 249.8Q353.5 246.6 353.63 249.8L355.05 284.9Q355.18 288.1 356.84 288.1L356.84 288.1Q358.5 288.1 358.65 284.9L360.95 235.8Q361.1 232.6 362.05 232.6L362.05 232.6Q362.99 232.6 363.1 235.8L364.89 285.8Q365 289 365.11 285.8L366.9 235.8Q367.01 232.6 368.12 232.6L368.12 232.6Q369.23 232.6 369.35 235.8L370.98 279.7Q371.1 282.9 371.22 279.7L372.85 235.8Q372.97 232.6 374.71 232.6L374.71 232.6Q376.45 232.6 376.58 235.8L377.97 269.7Q378.1 272.9 378.23 269.7L379.62 235.8Q379.75 232.6 381.48 232.6L381.48 232.6Q383.2 232.6 383.35 235.8L385.65 284.9Q385.8 288.1 386.32 288.1L386.32 288.1Q386.84 288.1 386.96 284.9L388.68 237.1Q388.8 233.9 388.92 237.1L390.64 284.9Q390.76 288.1 392.56 288.1L392.56 288.1Q394.37 288.1 394.54 284.9L395.53 265.8Q395.7 262.6 395.87 265.8L396.86 284.9Q397.03 288.1 398.51 288.1L398.51 288.1Q400 288.1 400.15 284.9L402.45 235.8Q402.6 232.6 403.85 232.6L403.85 232.6Q405.09 232.6 405.22 235.8L406.67 272.4Q406.8 275.6 406.93 272.4L408.38 235.8Q408.51 232.6 410.54 232.6L410.54 232.6Q412.58 232.6 412.69 235.8L414.49 286.4Q414.6 289.6 414.71 286.4L416.51 235.8Q416.62 232.6 418.2 232.6L418.2 232.6Q419.78 232.6 419.89 235.8L421.69 286.4Q421.8 289.6 421.91 286.4L423.71 235.8Q423.82 232.6 425.31 232.6L425.31 232.6Q426.8 232.6 426.92 235.8L428.58 280.8Q428.7 284 428.82 280.8L430.48 235.8Q430.6 232.6 432.19 232.6L432.19 232.6Q433.77 232.6 433.91 235.8L435.16 264.1Q435.3 267.3 435.44 264.1L436.69 235.8Q436.83 232.6 438.66 232.6L438.66 232.6Q440.5 232.6 440.65 235.8L442.95 284.9Q443.1 288.1 443.91 288.1L443.91 288.1Q444.72 288.1 444.86 284.9L446.16 254.3Q446.3 251.1 446.44 254.3L447.74 284.9Q447.88 288.1 449.34 288.1L449.34 288.1Q450.8 288.1 450.95 284.9L453.25 235.8Q453.4 232.6 454.37 232.6L454.37 232.6Q455.34 232.6 455.47 235.8L457 273.4" fill="none" stroke="#0606dc" stroke-width="2.0" stroke-linejoin="round" stroke-linecap="round" clip-path="url(#c32)"/>
<rect x="281.4" y="224.1" width="178.5" height="71" fill="none" stroke="#000" stroke-width="1"/>
<path d="M281.4 295.1V293.3M281.4 224.1V225.9" stroke="#000" stroke-width="1"/>
<text class="tk" transform="translate(281.6 308.1) skewX(0.05)" text-anchor="middle">0</text>
<path d="M317.1 295.1V293.3M317.1 224.1V225.9" stroke="#000" stroke-width="1"/>
<text class="tk" transform="translate(317.3 308.1) skewX(0.05)" text-anchor="middle"><tspan class="o">1</tspan>0</text>
<path d="M352.8 295.1V293.3M352.8 224.1V225.9" stroke="#000" stroke-width="1"/>
<text class="tk" transform="translate(353 308.1) skewX(0.05)" text-anchor="middle">20</text>
<path d="M388.5 295.1V293.3M388.5 224.1V225.9" stroke="#000" stroke-width="1"/>
<text class="tk" transform="translate(388.7 308.1) skewX(0.05)" text-anchor="middle">30</text>
<path d="M424.2 295.1V293.3M424.2 224.1V225.9" stroke="#000" stroke-width="1"/>
<text class="tk" transform="translate(424.4 308.1) skewX(0.05)" text-anchor="middle">40</text>
<path d="M459.9 295.1V293.3M459.9 224.1V225.9" stroke="#000" stroke-width="1"/>
<text class="tk" transform="translate(460.1 308.1) skewX(0.05)" text-anchor="middle">50</text>
<path d="M281.4 232.5H283.2M459.9 232.5H458.1" stroke="#000" stroke-width="1"/>
<text class="tk" transform="translate(278 236.1) skewX(0.05)" text-anchor="end">0.5</text>
<path d="M281.4 255.1H283.2M459.9 255.1H458.1" stroke="#000" stroke-width="1"/>
<text class="tk" transform="translate(278 258.7) skewX(0.05)" text-anchor="end">0.4</text>
<path d="M281.4 277.7H283.2M459.9 277.7H458.1" stroke="#000" stroke-width="1"/>
<text class="tk" transform="translate(278 281.3) skewX(0.05)" text-anchor="end">0.3</text>
<text class="xl" transform="translate(370.65 324.1) skewX(0.05)" text-anchor="middle">t</text>
<text transform="translate(248.7 271) rotate(-90) skewX(0.05)"><tspan class="yl">z</tspan><tspan class="ys" dy="8.5">32</tspan></text>
<clipPath id="c33"><rect x="516.2" y="224.1" width="178.5" height="71"/></clipPath>
<path d="M516.4 246.5L520.67 274.53Q521 276.7 521.51 278.84L522.19 281.76Q522.7 283.9 523.03 281.73L523.47 278.87Q523.8 276.7 524.23 278.86L524.47 280.04Q524.9 282.2 525.82 284.2L527.28 287.4Q528.2 289.4 528.42 287.21L532.98 242.29Q533.2 240.1 533.62 242.26L534.28 245.74Q534.7 247.9 535.26 245.77L538.24 234.43Q538.8 232.3 539.03 234.49L542.97 272.21Q543.2 274.4 543.62 276.56L543.88 277.84Q544.3 280 544.61 277.82L544.79 276.58Q545.1 274.4 545.46 276.57L545.84 278.93Q546.2 281.1 547.01 283.14L548.49 286.86Q549.3 288.9 549.55 286.71L554.65 241.79Q554.9 239.6 555.11 241.79L556.39 255.11Q556.6 257.3 557.05 255.15L561.15 235.55Q561.6 233.4 561.82 235.59L564.38 261.11Q564.6 263.3 564.96 261.13L568.94 237.27Q569.3 235.1 569.72 237.26L569.98 238.54Q570.4 240.7 571.11 238.62L573.09 232.78Q573.8 230.7 574.06 232.88L579.64 278.92Q579.9 281.1 580.04 278.9L581.16 261.8Q581.3 259.6 581.73 261.76L586.27 284.54Q586.7 286.7 586.92 284.51L588.08 273.29Q588.3 271.1 588.88 273.22L592.72 287.28Q593.3 289.4 593.51 287.21L596.99 250.09Q597.2 247.9 597.43 250.09L599.77 272.81Q600 275 600.28 272.82L604.12 242.88Q604.4 240.7 604.66 242.89L606.64 259.81Q606.9 262 607.23 259.83L610.77 236.77Q611.1 234.6 611.43 236.77L612.97 246.83Q613.3 249 613.91 246.89L617.69 233.91Q618.3 231.8 618.53 233.99L622.57 272.81Q622.8 275 623 272.81L624.8 252.89Q625 250.7 625.29 252.88L629.11 281.72Q629.4 283.9 629.76 281.73L630.24 278.87Q630.6 276.7 631.28 278.79L634.02 287.31Q634.7 289.4 634.96 287.22L640.34 241.78Q640.6 239.6 640.76 241.79L641.54 252.91Q641.7 255.1 642.18 252.95L646.22 235.05Q646.7 232.9 646.92 235.09L650.38 268.91Q650.6 271.1 650.85 268.91L653.65 243.99Q653.9 241.8 654.13 243.99L656.97 270.61Q657.2 272.8 657.5 270.62L661.4 241.78Q661.7 239.6 661.85 241.79L663.15 260.61Q663.3 262.8 663.73 260.64L668.47 236.76Q668.9 234.6 669.22 236.78L670.28 244.02Q670.6 246.2 671.14 244.07L673.86 233.33Q674.4 231.2 674.65 233.39L679.75 277.31Q680 279.5 680.23 277.31L680.87 271.09Q681.1 268.9 681.38 271.08L681.72 273.82Q682 276 682.7 278.09L685.4 286.21Q686.1 288.3 686.31 286.11L690.39 244.49Q690.6 242.3 690.88 244.48L692.4 256.5" fill="none" stroke="#0606dc" stroke-width="2.0" stroke-linejoin="round" stroke-linecap="round" clip-path="url(#c33)"/>
<rect x="516.2" y="224.1" width="178.5" height="71" fill="none" stroke="#000" stroke-width="1"/>
<path d="M516.2 295.1V293.3M516.2 224.1V225.9" stroke="#000" stroke-width="1"/>
<text class="tk" transform="translate(516.4 308.1) skewX(0.05)" text-anchor="middle">0</text>
<path d="M551.9 295.1V293.3M551.9 224.1V225.9" stroke="#000" stroke-width="1"/>
<text class="tk" transform="translate(552.1 308.1) skewX(0.05)" text-anchor="middle"><tspan class="o">1</tspan>0</text>
<path d="M587.6 295.1V293.3M587.6 224.1V225.9" stroke="#000" stroke-width="1"/>
<text class="tk" transform="translate(587.8 308.1) skewX(0.05)" text-anchor="middle">20</text>
<path d="M623.3 295.1V293.3M623.3 224.1V225.9" stroke="#000" stroke-width="1"/>
<text class="tk" transform="translate(623.5 308.1) skewX(0.05)" text-anchor="middle">30</text>
<path d="M659 295.1V293.3M659 224.1V225.9" stroke="#000" stroke-width="1"/>
<text class="tk" transform="translate(659.2 308.1) skewX(0.05)" text-anchor="middle">40</text>
<path d="M694.7 295.1V293.3M694.7 224.1V225.9" stroke="#000" stroke-width="1"/>
<text class="tk" transform="translate(694.9 308.1) skewX(0.05)" text-anchor="middle">50</text>
<path d="M516.2 224.5H518M694.7 224.5H692.9" stroke="#000" stroke-width="1"/>
<text class="tk" transform="translate(512.8 228.1) skewX(0.05)" text-anchor="end">2</text>
<path d="M516.2 259.8H518M694.7 259.8H692.9" stroke="#000" stroke-width="1"/>
<text class="tk" transform="translate(512.8 263.4) skewX(0.05)" text-anchor="end"><tspan class="o">1</tspan>.5</text>
<path d="M516.2 295H518M694.7 295H692.9" stroke="#000" stroke-width="1"/>
<text class="tk" transform="translate(512.8 298.6) skewX(0.05)" text-anchor="end"><tspan class="o">1</tspan></text>
<text class="xl" transform="translate(605.45 324.1) skewX(0.05)" text-anchor="middle">t</text>
<text transform="translate(483.5 271) rotate(-90) skewX(0.05)"><tspan class="yl">z</tspan><tspan class="ys" dy="8.5">33</tspan></text>
</svg></body></html>
